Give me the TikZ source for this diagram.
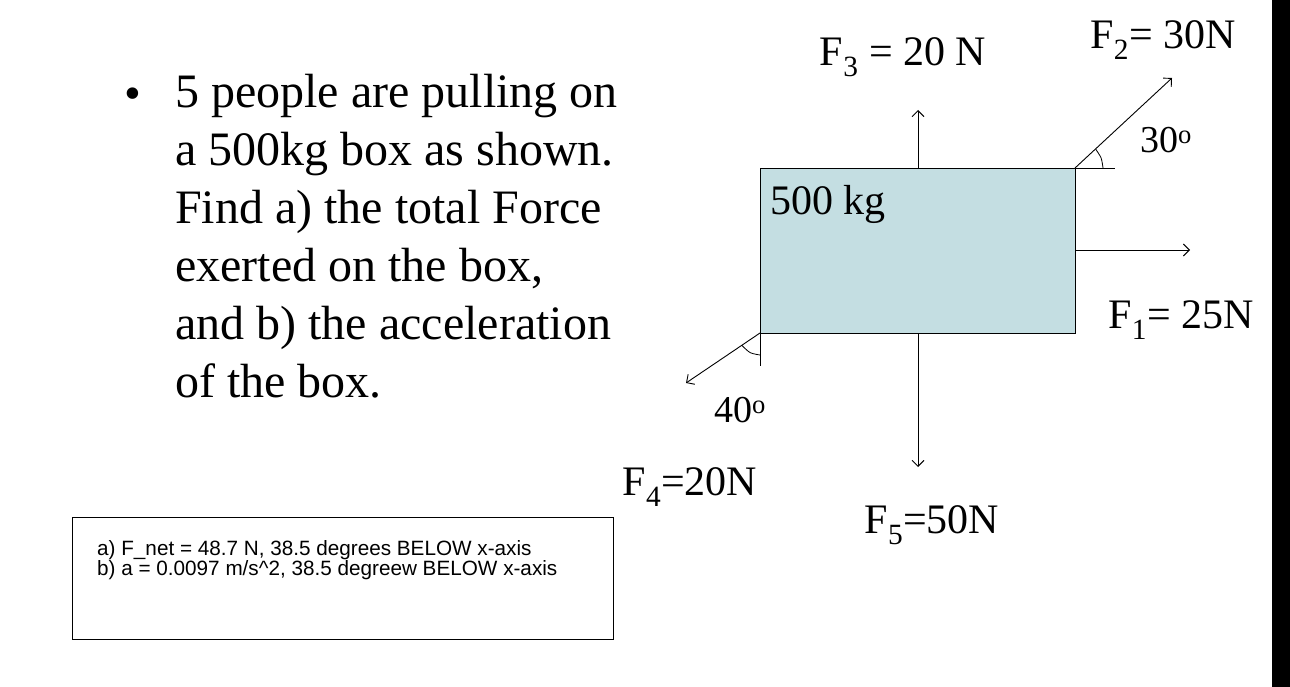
\documentclass[tikz,border=0pt]{standalone}
\usepackage{fontspec}
\setmainfont{Liberation Serif}
\newfontfamily\arialf{Liberation Sans}
\usetikzlibrary{arrows.meta}
\definecolor{boxfill}{RGB}{196,222,226}
\tikzset{
  frc/.style={-{Straight Barb[length=6pt,width=12pt]}, line width=0.9pt},
  lbl/.style={font=\fontsize{42}{46}\selectfont, inner sep=0pt},
  deg/.style={font=\fontsize{38}{40}\selectfont, inner sep=0pt},
}
\begin{document}
\begin{tikzpicture}[x=1pt,y=-1pt]
\useasboundingbox (0,0) rectangle (1290,687);
\fill[black] (1272,0) rectangle (1290,687);
% box
\node[draw, line width=1pt, fill=boxfill, minimum width=315pt, minimum height=165pt, inner sep=0pt, anchor=north west] (box) at (760,168) {};
\node[lbl, anchor=west] (mass) at (770,204) {500 kg};
% coordinates
\coordinate (f3s) at (918,168); \coordinate (f3e) at (918,110);
\coordinate (c2) at (1075,168); \coordinate (f2e) at (1172,78); \coordinate (h2) at (1115,168);
\coordinate (f1s) at (1075,250); \coordinate (f1e) at (1190,250);
\coordinate (f5s) at (918,333); \coordinate (f5e) at (918,467);
\coordinate (c4) at (760,333); \coordinate (f4e) at (686,383); \coordinate (v4) at (760,366);
\draw[frc] (f3s) -- (f3e);
\draw[frc] (c2) -- (f2e);
\draw[line width=0.9pt] (c2) -- (h2);
\draw[line width=0.8pt] plot[smooth] coordinates {(1103,168) (1101.1,158) (1095.8,149.3)};
\draw[frc] (f1s) -- (f1e);
\draw[frc] (f5s) -- (f5e);
\draw[frc] (c4) -- (f4e);
\draw[line width=0.9pt] (c4) -- (v4);
\draw[line width=0.8pt] plot[smooth] coordinates {(760,355) (750.1,352.6) (741.8,345.3)};
% labels
\node[lbl] (l3) at (903,57) {F\textsubscript{3} = 20 N};
\node[lbl] (l2) at (1163,40) {F\textsubscript{2}= 30N};
\node[deg] (a2) at (1166,140) {30\textsuperscript{o}};
\node[lbl] (l1) at (1181,320) {F\textsubscript{1}= 25N};
\node[deg] (a4) at (740,410) {40\textsuperscript{o}};
\node[lbl] (l4) at (690,487) {F\textsubscript{4}=20N};
\node[lbl] (l5) at (932,525) {F\textsubscript{5}=50N};
% bullet text
\node[font=\fontsize{48}{58}\selectfont, inner sep=0pt] (bul) at (133,99) {•};
\node[font=\fontsize{48}{58}\selectfont, align=left, anchor=north west, inner sep=0pt] (txt) at (175,74) {5 people are pulling on\\a 500kg box as shown.\\Find a) the total Force\\exerted on the box,\\and b) the acceleration\\of the box.};
% answer box
\node[draw, line width=1pt, minimum width=541pt, minimum height=122pt, inner sep=0pt, anchor=north west] (ans) at (72,517) {};
\node[font=\arialf\fontsize{20.7}{20}\selectfont, align=left, anchor=north west, inner sep=0pt] (anst) at (97,540) {a) F\_net = 48.7 N, 38.5 degrees BELOW x-axis\\b) a = 0.0097 m/s\textasciicircum 2, 38.5 degreew BELOW x-axis};
\end{tikzpicture}
\end{document}
